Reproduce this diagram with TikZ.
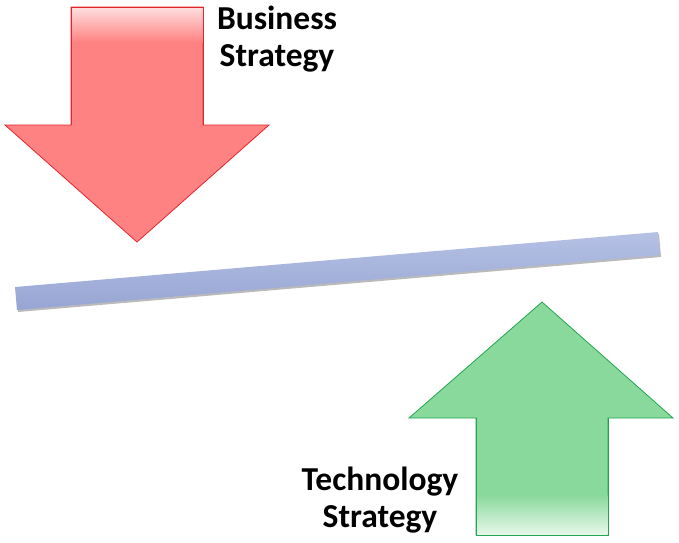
\documentclass[tikz,border=0pt]{standalone}
\usepackage{fontspec}
\setmainfont{Carlito}
\usetikzlibrary{shadows}
\definecolor{arrowRed}{HTML}{FF8282}
\definecolor{arrowRedLine}{HTML}{E3262B}
\definecolor{arrowGreen}{HTML}{8AD99C}
\definecolor{arrowGreenLine}{HTML}{22A553}
\definecolor{barTop}{HTML}{B5C1E4}
\definecolor{barBottom}{HTML}{97A5D3}
\begin{document}
\begin{tikzpicture}[x=1pt, y=-1pt, redStyle/.style={fill=arrowRed, draw=arrowRedLine, line width=0.8pt, line join=miter}, greenStyle/.style={fill=arrowGreen, draw=arrowGreenLine, line width=0.8pt, line join=miter}, barStyle/.style={top color=barTop, bottom color=barBottom, draw=none, drop shadow={opacity=0.45, fill=black!60, shadow xshift=1pt, shadow yshift=-2pt}}, labelStyle/.style={font=\bfseries\fontsize{33.5}{37}\selectfont, align=center, inner sep=0pt}]
                    \useasboundingbox (0,0) rectangle (679,542);

                    % business arrow
                    \path[redStyle] (71,7) -- (203,7) -- (203,125) -- (269,125) -- (137,242) -- (5,125) -- (71,125) -- cycle;
                    \begin{scope}
                        \clip (71.4,7.4) rectangle (202.6,60);
                        \shade[top color=arrowRed!25, bottom color=arrowRed] (71,7) rectangle (203,42);
                    \end{scope}
                    \draw[arrowRedLine, line width=0.8pt] (71,125) -- (71,7) -- (203,7) -- (203,125);

                    % technology arrow
                    \path[greenStyle] (476,535) -- (608,535) -- (608,418) -- (673,418) -- (542,302) -- (409,418) -- (476,418) -- cycle;
                    \begin{scope}
                        \clip (476.4,480) rectangle (607.6,534.6);
                        \shade[top color=arrowGreen, bottom color=arrowGreen!20] (476,495) rectangle (608,535);
                    \end{scope}
                    \draw[arrowGreenLine, line width=0.8pt] (476,418) -- (476,535) -- (608,535) -- (608,418);

                    % balance bar
                    \path[barStyle] (15,287) -- (658,232) -- (660,255) -- (17,310) -- cycle;

                    \node[labelStyle] (business) at (277,39) {Business\\Strategy};
                    \node[labelStyle] (technology) at (380,500) {Technology\\Strategy};
                \end{tikzpicture}
\end{document}
